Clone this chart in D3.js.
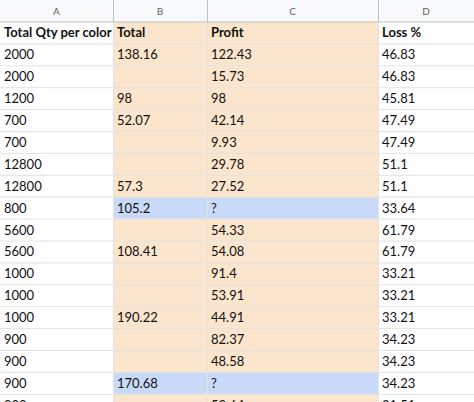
<!DOCTYPE html>
<html><head><meta charset="utf-8">
<script src="https://cdn.jsdelivr.net/npm/d3@7"></script>
<style>body{margin:0;background:#fff}</style></head>
<body><svg id="c" width="474" height="402"></svg>
<script>
const columnLetters = ["A","B","C","D"];
const headers = ["Total Qty per color","Total","Profit","Loss %"];
const qty = ["2000","2000","1200","700","700","12800","12800","800","5600","5600","1000","1000","1000","900","900","900","900"];
const total = ["138.16","","98","52.07","","","57.3","105.2","","108.41","","","190.22","","","170.68",""];
const profit = ["122.43","15.73","98","42.14","9.93","29.78","27.52","?","54.33","54.08","91.4","53.91","44.91","82.37","48.58","?","52.64"];
const loss = ["46.83","46.83","45.81","47.49","47.49","51.1","51.1","33.64","61.79","61.79","33.21","33.21","33.21","34.23","34.23","34.23","31.51"];
const highlightRows = [7,15];

const svg = d3.select("#c");
const colEdges = [0,113,207,378,474];
const x = i => colEdges[i], w = i => colEdges[i+1]-colEdges[i];
const headH = 22, rowH = 21.9;
const y = d3.scaleLinear().domain([0,1]).range([headH, headH+rowH]);
const font = "Lato, 'Noto Sans', sans-serif";

const rows = [headers].concat(qty.map((q,i)=>[q,total[i],profit[i],loss[i]]));

svg.append("rect").attr("x",0).attr("y",0).attr("width",474).attr("height",headH).attr("fill","#f8f9fa");
svg.selectAll("text.col").data(columnLetters).join("text")
  .attr("x",(d,i)=>x(i)+w(i)/2).attr("y",15).attr("text-anchor","middle")
  .attr("font-family",font).attr("font-size",10).attr("fill","#5f6368").text(d=>d);

rows.forEach((r,ri)=>{
  r.forEach((v,ci)=>{
    let fill = "#ffffff";
    if (ci===1||ci===2) fill = "#fce5cd";
    if (ri>0 && highlightRows.includes(ri-1) && (ci===1||ci===2)) fill="#c9daf8";
    svg.append("rect").attr("x",x(ci)).attr("y",y(ri)).attr("width",w(ci)).attr("height",rowH)
      .attr("fill",fill);
    svg.append("text").attr("x",x(ci)+4).attr("y",y(ri)+rowH/2+4.5)
      .attr("font-family",font).attr("font-size",13).attr("fill","#111")
      .attr("font-weight",ri===0?"bold":"normal").text(v);
  });
});
for (let ri=0; ri<=rows.length; ri++) {
  svg.append("line").attr("x1",0).attr("x2",474).attr("y1",y(ri)).attr("y2",y(ri))
    .attr("stroke", ri===0?"#c0c0c0":"#e2e3e3").attr("stroke-width",1);
}
colEdges.slice(1,4).forEach(cx=>{
  svg.append("line").attr("x1",cx+0.5).attr("x2",cx+0.5).attr("y1",0).attr("y2",402)
    .attr("stroke","#e2e3e3");
  svg.append("line").attr("x1",cx+0.5).attr("x2",cx+0.5).attr("y1",0).attr("y2",headH)
    .attr("stroke","#c0c0c0");
});
</script></body></html>
